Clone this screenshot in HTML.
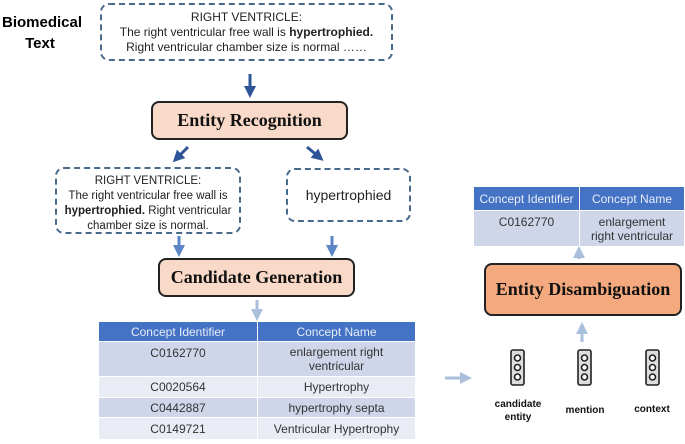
<!DOCTYPE html>
<html><head><meta charset="utf-8"><style>
body{margin:0;width:685px;height:444px;background:#fff;position:relative;overflow:hidden;font-family:"Liberation Sans",sans-serif}
.a{position:absolute}
.dash{position:absolute;border:2px dashed #4a6a8c;border-radius:9px;box-sizing:border-box;text-align:center;color:#222;font-size:12px;line-height:15px}
.box{position:absolute;border:2px solid #222;border-radius:8px;box-sizing:border-box;background:#f9d9c8;text-align:center;font-family:"Liberation Serif",serif;font-weight:bold;font-size:18px;color:#111}
table{position:absolute;border-collapse:collapse;font-size:12px;color:#333;text-align:center;line-height:14px}
td,th{border:1.5px solid #fff;padding:0}
th{background:#4472c4;color:#e8eefa;font-weight:normal}
.d{background:#cfd6ea}.l{background:#e9ecf5}
.lab{position:absolute;font-weight:bold;font-size:10px;text-align:center;line-height:13px;color:#111}
</style></head><body>
<div class="a" style="left:2px;top:12px;font-weight:bold;font-size:15px;line-height:21px;text-align:center;width:76px">Biomedical<br>Text</div>
<div class="dash" style="left:100px;top:3px;width:293px;height:58px;padding-top:5px">RIGHT VENTRICLE:<br>The right ventricular free wall is <b>hypertrophied.</b><br>Right ventricular chamber size is normal ……</div>
<div class="box" style="left:151px;top:101px;width:197px;height:39px;line-height:35px">Entity Recognition</div>
<div class="dash" style="left:55px;top:167px;width:186px;height:67px;padding-top:5px;font-size:11.5px">RIGHT VENTRICLE:<br>The right ventricular free wall is<br><b>hypertrophied.</b> Right ventricular<br>chamber size is normal.</div>
<div class="dash" style="left:286px;top:168px;width:125px;height:54px;line-height:50px;font-size:14px">hypertrophied</div>
<div class="box" style="left:158px;top:258px;width:197px;height:39px;line-height:35px">Candidate Generation</div>
<div class="box" style="left:484px;top:263px;width:198px;height:53px;line-height:49px;background:#f4a97e">Entity Disambiguation</div>
<table style="left:98px;top:321px;width:318px">
<tr style="height:20px"><th style="width:158px">Concept Identifier</th><th>Concept Name</th></tr>
<tr class="d" style="height:35px"><td style="vertical-align:top;padding-top:4px">C0162770</td><td>enlargement right<br>ventricular</td></tr>
<tr class="l" style="height:21px"><td>C0020564</td><td>Hypertrophy</td></tr>
<tr class="d" style="height:20px"><td>C0442887</td><td>hypertrophy septa</td></tr>
<tr class="l" style="height:22px"><td>C0149721</td><td>Ventricular Hypertrophy</td></tr>
</table>
<table style="left:473px;top:186px;width:212px">
<tr style="height:24px"><th style="width:105px">Concept Identifier</th><th>Concept Name</th></tr>
<tr class="d" style="height:36px"><td style="vertical-align:top;padding-top:4px">C0162770</td><td>enlargement<br>right ventricular</td></tr>
</table>
<svg class="a" style="left:0;top:0" width="685" height="444">
<defs><marker id="m" markerWidth="4" markerHeight="4" refX="2" refY="2" orient="auto"><path d="M0,0L4,2L0,4z" fill="#2e5597"/></marker>
<marker id="n" markerWidth="4" markerHeight="4" refX="2" refY="2" orient="auto"><path d="M0,0L4,2L0,4z" fill="#a9bfdc"/></marker>
<marker id="o" markerWidth="4" markerHeight="4" refX="2" refY="2" orient="auto"><path d="M0,0L4,2L0,4z" fill="#5b85c4"/></marker></defs>
<g stroke-width="3" fill="none">
<line x1="250" y1="74" x2="250" y2="92" stroke="#2e5597" marker-end="url(#m)"/>
<line x1="188" y1="147" x2="177" y2="158" stroke="#2e5597" marker-end="url(#m)"/>
<line x1="307" y1="147" x2="319" y2="157" stroke="#2e5597" marker-end="url(#m)"/>
<line x1="179" y1="236" x2="179" y2="251" stroke="#5b85c4" marker-end="url(#o)"/>
<line x1="332" y1="236" x2="332" y2="251" stroke="#5b85c4" marker-end="url(#o)"/>
<line x1="257" y1="300" x2="257" y2="315" stroke="#a9bfdc" marker-end="url(#n)"/>
<line x1="445" y1="378" x2="466" y2="378" stroke="#a9bfdc" marker-end="url(#n)"/>
<line x1="582" y1="342" x2="582" y2="328" stroke="#a9bfdc" marker-end="url(#n)"/>
<line x1="579" y1="259" x2="579" y2="252" stroke="#a9bfdc" marker-end="url(#n)"/>
</g>
<g stroke="#222" stroke-width="1.6" fill="#fff">
<rect x="511" y="350" width="13" height="35" rx="2" fill="#ddd"/><circle cx="517.5" cy="358" r="3"/><circle cx="517.5" cy="367.5" r="3"/><circle cx="517.5" cy="377" r="3"/>
<rect x="578" y="350" width="13" height="35" rx="2" fill="#ddd"/><circle cx="584.5" cy="358" r="3"/><circle cx="584.5" cy="367.5" r="3"/><circle cx="584.5" cy="377" r="3"/>
<rect x="646" y="350" width="13" height="35" rx="2" fill="#ddd"/><circle cx="652.5" cy="358" r="3"/><circle cx="652.5" cy="367.5" r="3"/><circle cx="652.5" cy="377" r="3"/>
</g></svg>
<div class="lab" style="left:485px;top:398px;width:66px">candidate<br>entity</div>
<div class="lab" style="left:555px;top:404px;width:60px">mention</div>
<div class="lab" style="left:622px;top:403px;width:60px">context</div>
</body></html>
